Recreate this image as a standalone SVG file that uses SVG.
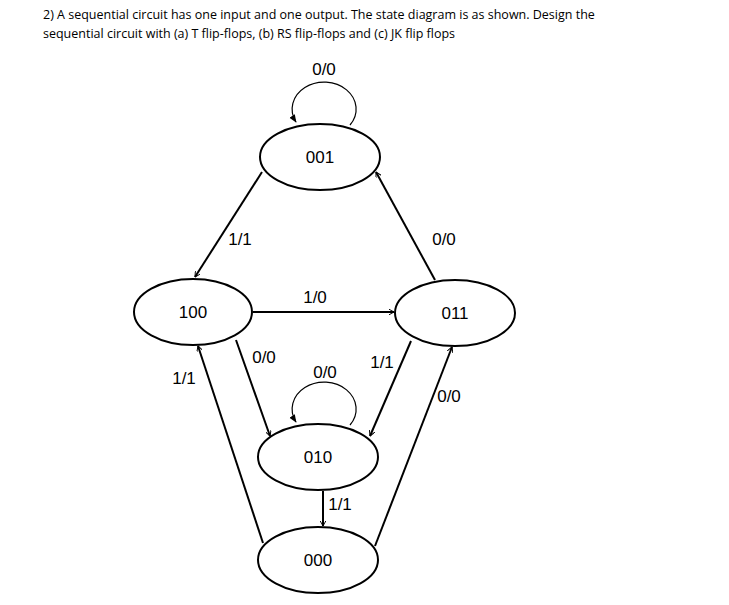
<svg xmlns="http://www.w3.org/2000/svg" width="729" height="605" viewBox="0 0 729 605">
<style>
.st{fill:#fff;stroke:#000;stroke-width:2}
.lb{font-family:"Liberation Sans",Arial,sans-serif;font-size:17px;fill:#000;text-anchor:middle}
.ed{fill:none;stroke:#000;stroke-width:2;marker-end:url(#a)}
.lp{fill:none;stroke:#000;stroke-width:1.2;marker-end:url(#f)}
.t{font-family:"Open Sans","Liberation Sans",sans-serif;font-size:12.5px;fill:#000}
</style>
<defs>
<marker id="a" viewBox="0 0 10 10" refX="9" refY="5" markerWidth="6" markerHeight="6" orient="auto" markerUnits="userSpaceOnUse"><path d="M0,0 L9,5 L0,10" fill="none" stroke="#000" stroke-width="1.6" transform="scale(1)"/></marker>
<marker id="f" viewBox="0 0 10 10" refX="9" refY="5" markerWidth="8" markerHeight="8" orient="auto" markerUnits="userSpaceOnUse"><path d="M0,1 L10,5 L0,9z" fill="#000"/></marker>
</defs>
<text class="t" x="43" y="19">2) A sequential circuit has one input and one output.  The state diagram is as shown.  Design the</text>
<text class="t" x="43" y="38">sequential circuit with (a) T flip-flops, (b) RS flip-flops and (c) JK flip flops</text>
<g id="connectors">
<path class="lp" d="M350,125 A32,27 0 1 0 296,122"/>
<text class="lb" x="324" y="75">0/0</text>
<path class="lp" d="M350,425 A32,27 0 1 0 296,422"/>
<text class="lb" x="325" y="378">0/0</text>
<line class="ed" x1="262" y1="172" x2="195" y2="277"/>
<text class="lb" x="240" y="245">1/1</text>
<line class="ed" x1="435" y1="280" x2="376" y2="172"/>
<text class="lb" x="444" y="245">0/0</text>
<line class="ed" x1="253" y1="312" x2="394" y2="312"/>
<text class="lb" x="315" y="303">1/0</text>
<line class="ed" x1="236" y1="340" x2="270" y2="436"/>
<text class="lb" x="264" y="363">0/0</text>
<line class="ed" x1="411" y1="341" x2="370" y2="436"/>
<text class="lb" x="382" y="368">1/1</text>
<line class="ed" x1="263" y1="543" x2="198" y2="346"/>
<text class="lb" x="184" y="384">1/1</text>
<line class="ed" x1="375" y1="546" x2="452" y2="347"/>
<text class="lb" x="449" y="402">0/0</text>
<line class="ed" x1="323" y1="491" x2="323" y2="526"/>
<text class="lb" x="340" y="510">1/1</text>
</g>
<g id="n001"><ellipse class="st" cx="320" cy="157" rx="60" ry="33"/><text class="lb" x="320" y="163">001</text></g>
<g id="n100"><ellipse class="st" cx="193" cy="312" rx="59" ry="33"/><text class="lb" x="193" y="318">100</text></g>
<g id="n011"><ellipse class="st" cx="455" cy="313" rx="60" ry="33"/><text class="lb" x="455" y="319">011</text></g>
<g id="n010"><ellipse class="st" cx="318" cy="457" rx="60" ry="33"/><text class="lb" x="318" y="463">010</text></g>
<g id="n000"><ellipse class="st" cx="318" cy="560" rx="60" ry="33"/><text class="lb" x="318" y="566">000</text></g>
</svg>
